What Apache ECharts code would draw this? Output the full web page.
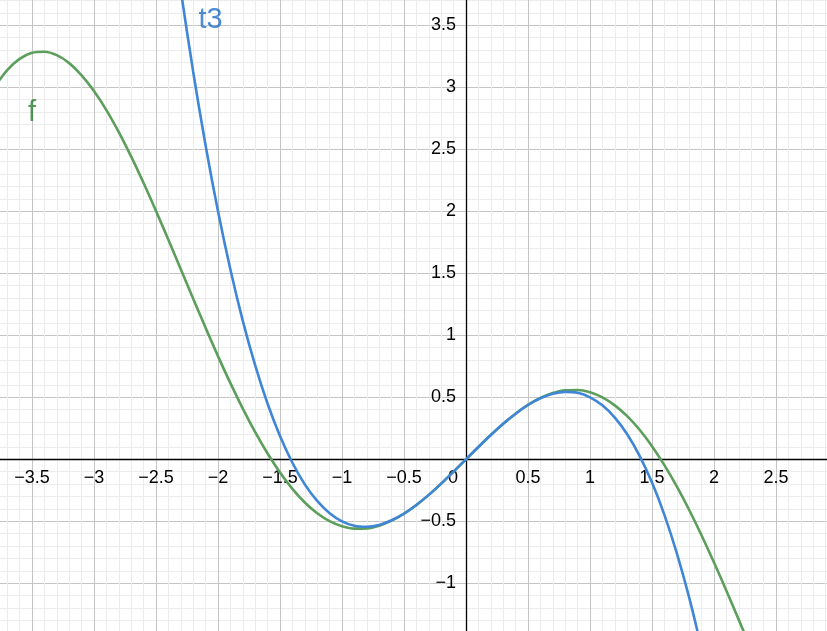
<!DOCTYPE html>
<html><head><meta charset="utf-8">
<script src="https://cdn.jsdelivr.net/npm/echarts@6/dist/echarts.min.js"></script>
<style>html,body{margin:0;padding:0;background:#fff}#c{width:827px;height:631px}</style>
</head><body><div id="c"></div>
<script>
// x samples
const fX = [-3.8,-3.7,-3.6,-3.5,-3.4,-3.3,-3.2,-3.1,-3.0,-2.9,-2.8,-2.7,-2.6,-2.5,-2.4,-2.3,-2.2,-2.1,-2.0,-1.9,-1.8,-1.7,-1.6,-1.5,-1.4,-1.3,-1.2,-1.1,-1.0,-0.9,-0.8,-0.7,-0.6,-0.5,-0.4,-0.3,-0.2,-0.1,0,0.1,0.2,0.3,0.4,0.5,0.6,0.7,0.8,0.9,1.0,1.1,1.2,1.3,1.4,1.5,1.6,1.7,1.8,1.9,2.0,2.1,2.2,2.3,2.4];
const fY = [3.006,3.138,3.229,3.278,3.287,3.259,3.195,3.097,2.970,2.816,2.638,2.441,2.228,2.003,1.770,1.532,1.295,1.060,0.832,0.614,0.409,0.219,0.047,-0.106,-0.238,-0.348,-0.435,-0.499,-0.540,-0.559,-0.557,-0.535,-0.495,-0.439,-0.368,-0.287,-0.196,-0.0995,0,0.0995,0.196,0.287,0.368,0.439,0.495,0.535,0.557,0.559,0.540,0.499,0.435,0.348,0.238,0.106,-0.047,-0.219,-0.409,-0.614,-0.832,-1.060,-1.295,-1.532,-1.770];
const tX = [-2.4,-2.3,-2.2,-2.1,-2.0,-1.9,-1.8,-1.7,-1.6,-1.5,-1.4,-1.3,-1.2,-1.1,-1.0,-0.9,-0.8,-0.7,-0.6,-0.5,-0.4,-0.3,-0.2,-0.1,0,0.1,0.2,0.3,0.4,0.5,0.6,0.7,0.8,0.9,1.0,1.1,1.2,1.3,1.4,1.5,1.6,1.7,1.8,1.9,2.0];
const tY = [4.512,3.784,3.124,2.531,2.0,1.530,1.116,0.757,0.448,0.188,-0.028,-0.202,-0.336,-0.435,-0.5,-0.536,-0.544,-0.529,-0.492,-0.438,-0.368,-0.287,-0.196,-0.0995,0,0.0995,0.196,0.287,0.368,0.438,0.492,0.529,0.544,0.536,0.5,0.435,0.336,0.202,0.028,-0.188,-0.448,-0.757,-1.116,-1.530,-2.0];
const curveNames = ['f','t3'];
const nameAnchors = [[-3.5,2.79],[-2.06,3.54]];

const GREEN = '#5c9e5c', BLUE = '#3f86d6';
const FONT = 'Liberation Sans, Arial';
const fmt = v => {
  if (Math.abs(v) < 1e-9) return '';
  return String(+v.toFixed(2)).replace('-', '\u2212');
};
const chart = echarts.init(document.getElementById('c'));
chart.setOption({
  animation:false,
  grid:{left:-30,right:-11,top:-36.7,bottom:-14.3,containLabel:false,outerBoundsMode:'none'},
  xAxis:{type:'value',min:-4,max:3,interval:0.5,position:'bottom',offset:-186,
    axisLine:{onZero:false,lineStyle:{color:'#000',width:1.3}},
    axisTick:{show:false},
    axisLabel:{color:'#000',fontSize:18,fontFamily:FONT,margin:10,
      formatter:v=> Math.abs(v)<1e-9 ? '{z|0}' : fmt(v),
      rich:{z:{fontSize:18,fontFamily:FONT,color:'#000',padding:[0,26,0,0]}}},
    splitLine:{show:true,lineStyle:{color:'#c4c4c4',width:1}},
    minorTick:{show:false,splitNumber:5},
    minorSplitLine:{show:true,lineStyle:{color:'#ececec',width:1}}
  },
  yAxis:{type:'value',min:-1.5,max:4,interval:0.5,position:'left',offset:-496,
    axisLine:{onZero:false,lineStyle:{color:'#000',width:1.3}},
    axisTick:{show:false},
    axisLabel:{color:'#000',fontSize:18,fontFamily:FONT,margin:10,formatter:fmt},
    splitLine:{show:true,lineStyle:{color:'#c4c4c4',width:1}},
    minorTick:{show:false,splitNumber:5},
    minorSplitLine:{show:true,lineStyle:{color:'#ececec',width:1}}
  },
  series:[
    {name:curveNames[0],type:'line',data:fX.map((x,i)=>[x,fY[i]]),smooth:0.3,showSymbol:false,
      lineStyle:{color:GREEN,width:2.6},z:3},
    {name:curveNames[1],type:'line',data:tX.map((x,i)=>[x,tY[i]]),smooth:0.3,showSymbol:false,
      lineStyle:{color:BLUE,width:2.6},z:4},
    {type:'scatter',symbolSize:0,z:5,
      data:[
        {value:nameAnchors[0],label:{show:true,formatter:curveNames[0],color:'#2e7d32',fontSize:29,fontFamily:FONT,position:'inside'}},
        {value:nameAnchors[1],label:{show:true,formatter:curveNames[1],color:'#1f6fc9',fontSize:29,fontFamily:FONT,position:'inside'}}
      ]}
  ]
});
</script></body></html>
